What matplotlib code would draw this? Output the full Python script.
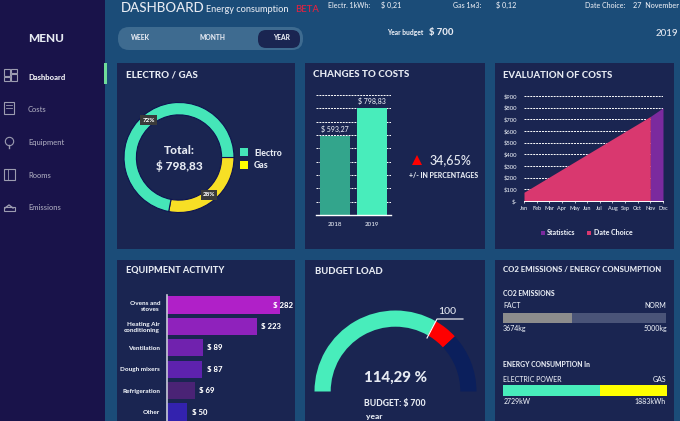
import numpy as np
import matplotlib
matplotlib.use("Agg")
import matplotlib.pyplot as plt
from matplotlib.patches import Rectangle, FancyBboxPatch

plt.rcParams["font.family"] = ["Lato", "DejaVu Sans"]
plt.rcParams["font.weight"] = 500

W, H = 680, 421
BG = "#1B4C78"
SIDE = "#19134A"
PANEL = "#1A2551"
TXT = "#E6EAF2"
GREEN = "#48EDBB"
HEAVY = 900

# data
menu_items = ["Dashboard", "Costs", "Equipment", "Rooms", "Emissions"]
donut_labels = ["Gas", "Electro"]
donut_values = [28, 72]
years = ["2018", "2019"]
year_costs = [593.27, 798.83]
months = ["Jan", "Feb", "Mar", "Apr", "May", "Jun", "Jul", "Aug", "Sep", "Oct", "Nov", "Dec"]
date_choice = [75, 140, 205, 270, 335, 400, 465, 530, 595, 660, 725, np.nan]
statistics = [np.nan] * 10 + [725, 799]
cost_ticks = [0, 100, 200, 300, 400, 500, 600, 700, 800, 900]
cost_labels = ["$-", "$100", "$200", "$300", "$400", "$500", "$600", "$700", "$800", "$900"]
equipment = ["Ovens and\nstoves", "Heating Air\nconditioning", "Ventilation", "Dough mixers", "Refrigeration", "Other"]
equipment_costs = [282, 223, 89, 87, 69, 50]
equipment_colors = ["#B020C8", "#8F22BC", "#7022AE", "#5E22AE", "#4A2375", "#3322AE"]
gauge_values = [100, 14.29, 35.71]
co2_fill = [42.5]
co2_norm = [100]
energy_kw = [2729, 1883]


def px_axes(x0, y0, x1, y1, z=1):
    # axes from pixel box, y measured from the top
    ax = fig.add_axes([x0 / W, 1 - y1 / H, (x1 - x0) / W, (y1 - y0) / H], zorder=z)
    ax.patch.set_alpha(0)
    return ax


fig = plt.figure(figsize=(W / 100, H / 100), dpi=100, facecolor=BG)

bg = px_axes(0, 0, W, H, 0)
bg.set_xlim(0, W)
bg.set_ylim(H, 0)
bg.axis("off")
top = px_axes(0, 0, W, H, 5)
top.set_xlim(0, W)
top.set_ylim(H, 0)
top.axis("off")


def label(x, y, s, size=6, weight=500, color=TXT, ha="left"):
    top.text(x, y, s, fontsize=size, fontweight=weight, color=color, ha=ha, va="center")


bg.add_patch(Rectangle((0, 0), 105, H, color=SIDE, lw=0))
for x0, y0, x1, y1 in [(117, 63, 295, 249), (305, 63, 485, 249), (495, 63, 674, 249),
                       (117, 260, 295, 421), (305, 260, 485, 421), (495, 260, 674, 421)]:
    bg.add_patch(Rectangle((x0, y0), x1 - x0, y1 - y0, color=PANEL, lw=0))

# side menu
label(46, 38, "MENU", 8.6, HEAVY, ha="center")
bg.add_patch(Rectangle((104, 63), 3, 21, color="#6FDC9A", lw=0))
for i, (name, y) in enumerate(zip(menu_items, [77.5, 110, 142.5, 175, 207])):
    label(28, y, name, 5.5, HEAVY if i == 0 else 500, "#F2F2F6" if i == 0 else "#A9A8BC")
icon = "#9C9CB0"
for x, y, w, h in [(4, 69, 6, 7), (11, 69, 6, 4), (4, 77, 6, 4), (11, 74, 6, 7)]:
    bg.add_patch(Rectangle((x, y), w, h, fill=False, ec=icon, lw=0.8))
bg.add_patch(Rectangle((4, 102), 10, 12, fill=False, ec=icon, lw=0.8))
bg.plot([6, 12], [105, 105], color=icon, lw=0.6)
bg.plot([6, 12], [108, 108], color=icon, lw=0.6)
bg.plot([9], [141], "o", ms=6, mfc="none", mec=icon, mew=0.8)
bg.plot([9, 9], [145, 148], color=icon, lw=1)
bg.add_patch(Rectangle((4, 169), 11, 11, fill=False, ec=icon, lw=0.8))
bg.plot([8, 8], [169, 180], color=icon, lw=0.6)
bg.plot([5, 9, 13], [208, 205, 208], color=icon, lw=1)
bg.add_patch(Rectangle((4, 207), 11, 4, fill=False, ec=icon, lw=0.8))

# header
label(121, 8.5, "DASHBOARD", 9.6)
label(206, 10, "Energy consumption", 6.6)
label(295, 10, "BETA", 6.8, color="#E8213F")
label(328, 5, "Electr. 1kWh:", 5)
label(381, 5, "$ 0,21", 5.2)
label(453, 5, "Gas 1м3:", 5)
label(496, 5, "$ 0,12", 5.2)
label(585, 5, "Date Choice:", 5)
label(633, 5, "27  November", 5.2)
label(387, 33, "Year budget", 4.8, HEAVY)
label(429, 33, "$ 700", 6.8, HEAVY)
label(678, 33, "2019", 7, ha="right")

# period switch
bg.add_patch(FancyBboxPatch((118, 27), 185, 23, boxstyle="round,pad=0,rounding_size=11", color="#3E6B90", lw=0))
bg.add_patch(FancyBboxPatch((258, 30), 42, 18, boxstyle="round,pad=0,rounding_size=8", color=PANEL, lw=0))
label(140, 37, "WEEK", 4.8, HEAVY, ha="center")
label(212, 37, "MONTH", 4.8, HEAVY, ha="center")
label(282, 37, "YEAR", 4.8, HEAVY, ha="center")

# panel titles
label(126, 74.5, "ELECTRO / GAS", 7, HEAVY)
label(313, 74.5, "CHANGES TO COSTS", 7, HEAVY)
label(503, 76, "EVALUATION OF COSTS", 6.8, HEAVY)
label(126, 271, "EQUIPMENT ACTIVITY", 6.6, HEAVY)
label(315, 271, "BUDGET LOAD", 6.8, HEAVY)
label(503, 270, "CO2 EMISSIONS / ENERGY CONSUMPTION", 5.6, HEAVY)

# donut
ax = px_axes(124, 102.5, 234, 212.5)
ax.pie(donut_values, colors=["#F7DF25", "#45E6B8"], startangle=0, counterclock=False, radius=1,
       wedgeprops={"width": 0.225, "edgecolor": "#0E1350", "linewidth": 0.8})
ax.set_xlim(-1, 1)
ax.set_ylim(-1, 1)
label(179, 150, "Total:", 8.6, HEAVY, ha="center")
label(179, 166, "$ 798,83", 8.6, HEAVY, ha="center")
bg.add_patch(Rectangle((240, 148), 8, 8, color="#45E6B8", lw=0))
bg.add_patch(Rectangle((240, 161), 8, 8, color="#FFFF00", lw=0))
label(254, 153.5, "Electro", 6.3, HEAVY)
label(254, 166, "Gas", 6.3, HEAVY)
for x, y, s in [(148.5, 120, "72%"), (209, 195, "28%")]:
    top.text(x, y, s, fontsize=4.5, fontweight=HEAVY, color="white", ha="center", va="center",
             bbox={"boxstyle": "square,pad=0.35", "fc": "#3A3A3A", "ec": "none"})

# changes to costs
ax = px_axes(316, 95, 391, 215)
ax.set_ylim(0, 900)
ax.set_xlim(-0.51, 1.51)
ax.yaxis.grid(True, color="white", ls=(0, (2, 1)), lw=0.7)
ax.set_axisbelow(True)
ax.bar([0, 1], year_costs, width=0.81, color=["#33A58C", GREEN])
ax.set_yticks(range(0, 1000, 100))
ax.set_xticks([0, 1], years)
ax.tick_params(axis="y", left=False, labelleft=False)
ax.tick_params(axis="x", length=0, labelsize=4.5, labelcolor=TXT, pad=5)
for s in ["top", "left", "right"]:
    ax.spines[s].set_visible(False)
ax.spines["bottom"].set_color("white")
ax.spines["bottom"].set_linewidth(1)
ax.text(0, year_costs[0] + 25, "$ 593,27", fontsize=5, color=TXT, ha="center", va="bottom",
        bbox={"fc": PANEL, "ec": "none", "pad": 0.8})
ax.text(1, year_costs[1] + 25, "$ 798,83", fontsize=5, color=TXT, ha="center", va="bottom",
        bbox={"fc": PANEL, "ec": "none", "pad": 0.8})
top.plot([417], [160], "^", color="#FF0000", ms=7.5, mew=0)
label(430, 160, "34,65%", 9)
label(443.5, 175, "+/- IN PERCENTAGES", 5, HEAVY, ha="center")

# evaluation of costs
ax = px_axes(524, 96, 663, 201)
x = np.arange(len(months))
ax.set_xlim(0, 11)
ax.set_ylim(0, 900)
ax.yaxis.grid(True, color="white", ls=(0, (2, 1)), lw=0.7)
ax.set_axisbelow(True)
ax.fill_between(x, date_choice, color="#D9386F", lw=0, zorder=2)
ax.fill_between(x, statistics, color="#7B2A9E", lw=0, zorder=2)
ax.set_yticks(cost_ticks, cost_labels)
ax.set_xticks(x, months)
ax.tick_params(axis="y", length=0, labelsize=4.2, labelcolor=TXT, pad=5)
ax.tick_params(axis="x", labelsize=4, labelcolor=TXT, color="white", length=1.5, width=0.5, pad=2)
for s in ["top", "left", "right"]:
    ax.spines[s].set_visible(False)
ax.spines["bottom"].set_color("white")
ax.spines["bottom"].set_linewidth(0.7)
bg.add_patch(Rectangle((541, 231), 4, 4, color="#7B2A9E", lw=0))
bg.add_patch(Rectangle((587, 231), 4, 4, color="#D9386F", lw=0))
label(547, 232.5, "Statistics", 5, HEAVY)
label(594, 232.5, "Date Choice", 5, HEAVY)

# equipment activity
ax = px_axes(167, 295, 290, 421)
ax.set_xlim(-1, 306.5)
ax.set_ylim(5.42, -0.47)
pos = np.arange(len(equipment))
ax.barh(pos, equipment_costs, height=0.8, color=equipment_colors, left=0)
ax.set_yticks(pos, equipment)
ax.set_xticks([])
ax.tick_params(axis="y", length=0, labelsize=4.6, labelcolor=TXT, pad=5)
for lab in ax.get_yticklabels():
    lab.set_fontweight(HEAVY)
    lab.set_linespacing(1.35)
for s in ["top", "bottom", "right"]:
    ax.spines[s].set_visible(False)
ax.spines["left"].set_color("#C8CCD8")
ax.spines["left"].set_linewidth(1.2)
for p, v in zip(pos, equipment_costs):
    # the first label sits over the bar end
    xoff = -17 if v == max(equipment_costs) else 11
    ax.text(v + xoff, p, f"$ {v}", fontsize=5.6, fontweight=HEAVY, color="white", va="center", clip_on=False)

# budget gauge
ax = px_axes(314.5, 310.5, 476.5, 472.5)
ax.pie(gauge_values + [sum(gauge_values)], colors=[GREEN, "#FF0000", "#0B1F5C", "none"],
       startangle=180, counterclock=False, radius=1, wedgeprops={"width": 0.2, "linewidth": 0})
ax.set_xlim(-1, 1)
ax.set_ylim(-1, 1)
top.plot([427, 437, 463], [338, 319, 319], color="white", lw=0.8)
label(447, 311, "100", 7.5, ha="center")
label(395, 378, "114,29 %", 10.8, HEAVY, ha="center")
label(364, 403.5, "BUDGET: $ 700", 6.2, HEAVY)
label(366, 417, "year", 6, HEAVY)

# co2 and energy bars
label(503, 293.5, "CO2 EMISSIONS", 4.9, HEAVY)
label(503, 306, "FACT", 5)
label(666, 306, "NORM", 5, ha="right")
ax = px_axes(503, 313, 666, 323)
ax.barh([0], co2_norm, height=1, color="#4A5478")
ax.barh([0], co2_fill, height=1, color="#8C8C8C")
ax.set_xlim(0, 100)
ax.set_ylim(-0.5, 0.5)
ax.axis("off")
label(503, 328, "3674kg", 5)
label(667, 328, "5000kg", 5, ha="right")

label(503, 364.5, "ENERGY CONSUMPTION In", 4.9, HEAVY)
label(503, 379, "ELECTRIC POWER", 5)
label(666, 379, "GAS", 5, ha="right")
ax = px_axes(503, 385, 667, 396)
ax.barh([0], [energy_kw[0]], height=1, color=GREEN)
ax.barh([0], [energy_kw[1]], left=[energy_kw[0]], height=1, color="#FFFF00")
ax.set_xlim(0, sum(energy_kw))
ax.set_ylim(-0.5, 0.5)
ax.axis("off")
label(504, 402, "2729kW", 5)
label(666, 402, "1883kWh", 5, ha="right")

fig.savefig("out.png", dpi=100, facecolor=BG)
